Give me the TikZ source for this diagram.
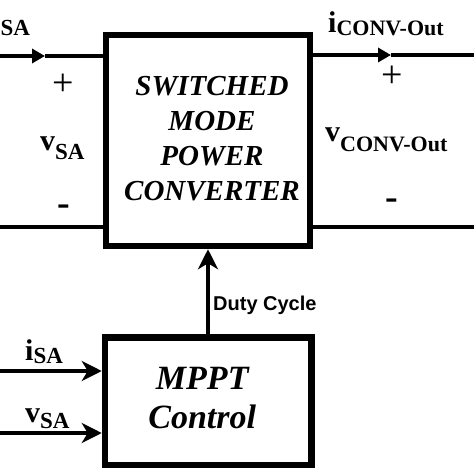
\documentclass[tikz,border=0pt]{standalone}
\usepackage{fontspec}
\setmainfont{Liberation Serif}
\newfontfamily\dutyfont{Liberation Sans}
\usetikzlibrary{arrows.meta}
\newcommand\mylbl[4]{{\fontsize{30}{30}\selectfont\bfseries #1}\raisebox{-#3}{\fontsize{#4}{#4}\selectfont\bfseries #2}}
\begin{document}
\begin{tikzpicture}[x=1pt,y=-1pt,
  blk/.style={draw,line width=6.5pt,fill=white,inner sep=0pt},
  convtxt/.style={font=\fontsize{29}{35}\selectfont\bfseries\itshape},
  mppttxt/.style={font=\fontsize{34}{39}\selectfont\bfseries\itshape},
  wire/.style={line width=4.5pt},
  headR/.style={-{Triangle[length=13pt,width=14pt]}},
  sig/.style={line width=3.5pt,-{Stealth[length=20pt,width=20pt,inset=6pt]}},
  lab/.style={inner sep=0pt,anchor=base west},
  plus/.style={inner sep=0pt,font=\fontsize{38}{38}\selectfont},
  minus/.style={inner sep=0pt,font=\fontsize{38}{38}\selectfont\bfseries},
  duty/.style={inner sep=0pt,anchor=base west,font=\dutyfont\fontsize{20}{20}\selectfont\bfseries}]
\useasboundingbox[fill=white] (0,0) rectangle (474,474);
% blocks
\node[blk,convtxt,minimum width=204pt,minimum height=211pt] (conv) at (208,140.5)
  {\hspace*{8pt}\raisebox{5pt}{\begin{tabular}{@{}c@{}}SWITCHED\\MODE\\POWER\\CONVERTER\end{tabular}}};
\node[blk,mppttxt,minimum width=206.5pt,minimum height=127.5pt] (mppt) at (208.25,401.25)
  {\raisebox{0pt}{\begin{tabular}{@{}c@{}}MPPT\\Control\end{tabular}}\hspace*{12pt}};
% input wires
\coordinate (inT) at (0,56);
\coordinate (inTa) at (45,56);
\coordinate (inB) at (0,227);
\draw[wire,headR] (inT) -- (inTa);
\draw[wire] (inTa) -- (inT -| conv.west);
\draw[wire] (inB) -- (inB -| conv.west);
% output wires
\coordinate (outT) at (474,55);
\coordinate (outTa) at (391,55);
\coordinate (outB) at (474,227);
\draw[wire,headR] (outT -| conv.east) -- (outTa);
\draw[wire] (outTa) -- (outT);
\draw[wire] (outB -| conv.east) -- (outB);
% MPPT inputs
\coordinate (iin) at (0,371);
\coordinate (vin) at (0,433);
\draw[sig] (iin) -- (iin -| mppt.west);
\draw[sig] (vin) -- (vin -| mppt.west);
% duty cycle
\draw[sig] (mppt.north -| conv.south) -- (conv.south);
% labels
\node[lab] (liSA) at (-8,32) {\mylbl{i}{SA}{3pt}{23}};
\node[plus] (pL) at (63,85) {+};
\node[lab] (lvSA) at (40,150) {\mylbl{v}{SA}{9pt}{23}};
\node[minus] (mL) at (64,210) {-};
\node[lab] (liC) at (328,32) {\mylbl{i}{CONV-Out}{3pt}{22}};
\node[plus] (pR) at (392,77) {+};
\node[lab] (lvC) at (325,141) {\mylbl{v}{CONV-Out}{10pt}{22}};
\node[minus] (mR) at (392,204) {-};
\node[lab] (liM) at (25,360) {\mylbl{i}{SA}{3pt}{23}};
\node[lab] (lvM) at (25,422) {\mylbl{v}{SA}{6pt}{23}};
\node[duty] (dc) at (213,310) {Duty Cycle};
\end{tikzpicture}
\end{document}
